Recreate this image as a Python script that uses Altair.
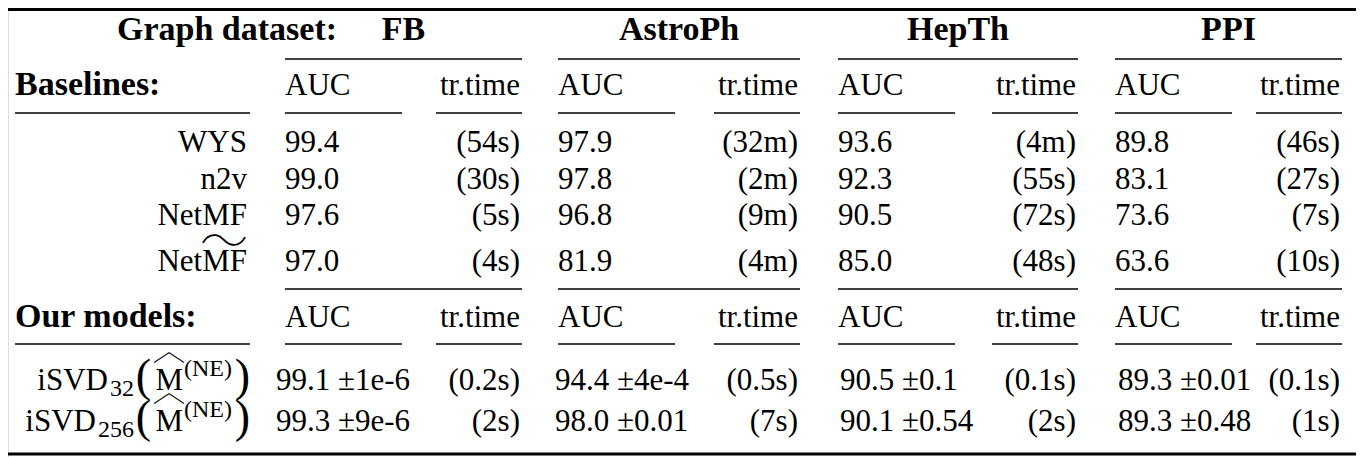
import altair as alt
import pandas as pd

# ---------------- data ----------------
datasets = ["FB", "AstroPh", "HepTh", "PPI"]
baseline_names = ["WYS", "n2v", "NetMF", "NetMF"]  # last one carries a wide tilde over "MF"

auc_fb = [99.4, 99.0, 97.6, 97.0]
auc_astro = [97.9, 97.8, 96.8, 81.9]
auc_hepth = [93.6, 92.3, 90.5, 85.0]
auc_ppi = [89.8, 83.1, 73.6, 63.6]

time_fb = ["(54s)", "(30s)", "(5s)", "(4s)"]
time_astro = ["(32m)", "(2m)", "(9m)", "(4m)"]
time_hepth = ["(4m)", "(55s)", "(72s)", "(48s)"]
time_ppi = ["(46s)", "(27s)", "(7s)", "(10s)"]

model_dims = ["32", "256"]
model_auc_fb = ["99.1 ±1e-6", "99.3 ±9e-6"]
model_auc_astro = ["94.4 ±4e-4", "98.0 ±0.01"]
model_auc_hepth = ["90.5 ±0.1", "90.1 ±0.54"]
model_auc_ppi = ["89.3 ±0.01", "89.3 ±0.48"]
model_time_fb = ["(0.2s)", "(2s)"]
model_time_astro = ["(0.5s)", "(7s)"]
model_time_hepth = ["(0.1s)", "(2s)"]
model_time_ppi = ["(0.1s)", "(1s)"]

base_auc = [auc_fb, auc_astro, auc_hepth, auc_ppi]
base_time = [time_fb, time_astro, time_hepth, time_ppi]
mod_auc = [model_auc_fb, model_auc_astro, model_auc_hepth, model_auc_ppi]
mod_time = [model_time_fb, model_time_astro, model_time_hepth, model_time_ppi]

# ---------------- layout (page pixel grid of the table) ----------------
W, H = 1348, 449
FS = 31          # body font size
FSB = 34         # bold font size
SERIF = "Liberation Serif"
CJK = "Noto Sans CJK JP"

ds_start = [285, 558, 838, 1115]
ds_end = [522, 800, 1078, 1342]
mod_left_shift = [-9, -3, 2, 3]
auc_rule_len = 117
time_rule_len = 86
label_left, label_right = 15, 250
label_text_right = 247

y_head = 40
y_sub1 = 95
y_base = [152, 188.5, 225, 271]
y_sub2 = 327
y_mod = [390, 431]

y_top_rule = 9.5
y_cmid1 = 59
y_rule2 = 113
y_cmid3 = 289
y_rule4 = 344
y_bottom_rule = 454

# ---------------- build tables ----------------
left_rows, right_rows, boldl_rows, boldc_rows, cjk_rows = [], [], [], [], []
thin_rules, thick_rules = [], []


def T(rows, x, y, t, s=FS):
    rows.append({"x": x, "y": y, "t": t, "s": s})


# header
T(boldl_rows, 117, y_head, "Graph dataset:", FSB)
for i, d in enumerate(datasets):
    T(boldc_rows, (ds_start[i] + ds_end[i]) / 2, y_head, d, FSB)
T(boldl_rows, label_left, y_sub1, "Baselines:", FSB)
T(boldl_rows, label_left, y_sub2, "Our models:", FSB)

for i in range(4):
    for ysub in (y_sub1, y_sub2):
        T(left_rows, ds_start[i], ysub, "AUC")
        T(right_rows, ds_end[i] - 2, ysub, "tr.time")
    for r in range(4):
        T(left_rows, ds_start[i], y_base[r], f"{base_auc[i][r]:.1f}")
        T(right_rows, ds_end[i] - 2, y_base[r], base_time[i][r])
    for r in range(2):
        T(left_rows, ds_start[i] + mod_left_shift[i], y_mod[r], mod_auc[i][r])
        T(right_rows, ds_end[i] - 2, y_mod[r], mod_time[i][r])

# baseline method labels
for r, name in enumerate(baseline_names):
    T(right_rows, label_text_right, y_base[r], name)
# wide tilde over "MF" of the last NetMF
T(cjk_rows, 224, y_base[3] - 27, "〜", 48)

# our model labels: iSVD_k( M-hat ^(NE) )
for r, k in enumerate(model_dims):
    yb = y_mod[r]
    T(right_rows, 250, yb + 1, ")", 46)
    T(right_rows, 232, yb - 14, "(NE)", 24)
    T(right_rows, 183, yb, "M", FS)
    T(cjk_rows, 169, yb - 40, "︿", 33)
    T(right_rows, 151, yb + 1, "(", 46)
    T(right_rows, 134, yb + 6, k, 24)
    T(right_rows, 134 - 12 * len(k) - 2, yb, "iSVD", FS)

# rules
thick_rules.append({"x": 8, "x2": 1356, "y": y_top_rule})
thick_rules.append({"x": 8, "x2": 1356, "y": y_bottom_rule})
for i in range(4):
    for yy in (y_cmid1, y_cmid3):
        thin_rules.append({"x": ds_start[i], "x2": ds_end[i], "y": yy})
    for yy in (y_rule2, y_rule4):
        thin_rules.append({"x": ds_start[i], "x2": ds_start[i] + auc_rule_len, "y": yy})
        thin_rules.append({"x": ds_end[i] - time_rule_len, "x2": ds_end[i], "y": yy})
for yy in (y_rule2, y_rule4):
    thin_rules.append({"x": label_left, "x2": label_right, "y": yy})

# ---------------- chart ----------------
xs = alt.Scale(domain=[8, 8 + W], nice=False, zero=False)
ys = alt.Scale(domain=[8, 8 + H], nice=False, zero=False, reverse=True)
X = alt.X("x:Q", scale=xs, axis=None)
Y = alt.Y("y:Q", scale=ys, axis=None)


def text_layer(rows, align, weight="normal", font=SERIF, baseline="alphabetic"):
    return alt.Chart(pd.DataFrame(rows)).mark_text(
        align=align, baseline=baseline, font=font, fontWeight=weight, color="black"
    ).encode(x=X, y=Y, text="t:N", size=alt.Size("s:Q", scale=None, legend=None))


def rule_layer(rows, sw):
    return alt.Chart(pd.DataFrame(rows)).mark_rule(color="black", strokeWidth=sw).encode(
        x=X, x2="x2:Q", y=Y
    )


chart = alt.layer(
    rule_layer(thin_rules, 1.3),
    rule_layer(thick_rules, 3),
    text_layer(left_rows, "left"),
    text_layer(right_rows, "right"),
    text_layer(boldl_rows, "left", "bold"),
    text_layer(boldc_rows, "center", "bold"),
    text_layer(cjk_rows, "center", 100, CJK, "middle"),
).properties(
    width=W, height=H, padding=0, autosize=alt.AutoSizeParams(type="none")
).configure_view(stroke=None).configure(background="white")

chart.save("out.html", embed_options={"renderer": "svg", "actions": False})
